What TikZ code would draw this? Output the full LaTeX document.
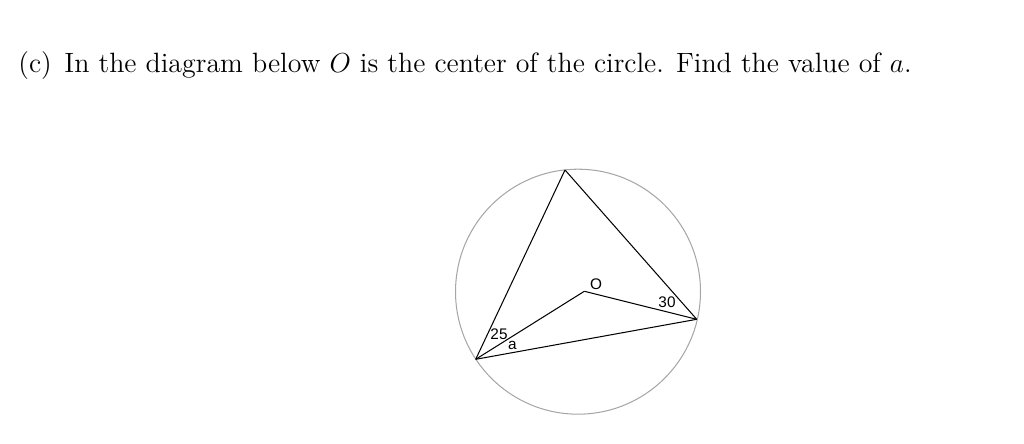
\documentclass[tikz,border=0pt]{standalone}
\usepackage{fontspec}
\newfontfamily\lblfont{Liberation Sans}
\usepackage{tikz}

\begin{document}
\begin{tikzpicture}[x=0.4368pt, y=-0.4368pt,
		seg/.style={draw=black, line width=0.45pt},
		lbl/.style={font=\lblfont\fontsize{6.7}{8}\selectfont, inner sep=0pt}]
		\useasboundingbox (0,0) rectangle (1024,444);
		
		\node[anchor=base west, inner sep=0pt, font=\fontsize{12.2}{14}\selectfont] (q) at (18,72.3)
			{(c)\hspace{0.45em}In the diagram below $O$ is the center of the circle. Find the value of $a$.};
		
		\coordinate (m) at (578,291.7);
		\coordinate (A) at (565,170);
		\coordinate (B) at (696.7,319.3);
		\coordinate (C) at (475.7,359.3);
		\coordinate (O) at (584.3,291.3);
		
		\draw[gray!70, line width=0.45pt] (m) circle (53.5pt);
		
		\draw[seg] (A) -- (B);
		\draw[seg] (A) -- (C);
		\draw[seg] (C) -- (B);
		\draw[seg] (C) -- (O);
		\draw[seg] (O) -- (B);
		
		\node[lbl] (lO) at (596,284) {O};
		\node[lbl] (l30) at (667,302.5) {30};
		\node[lbl] (l25) at (499,334) {25};
		\node[lbl] (la) at (512.5,345.5) {a};
		\end{tikzpicture}
\end{document}
